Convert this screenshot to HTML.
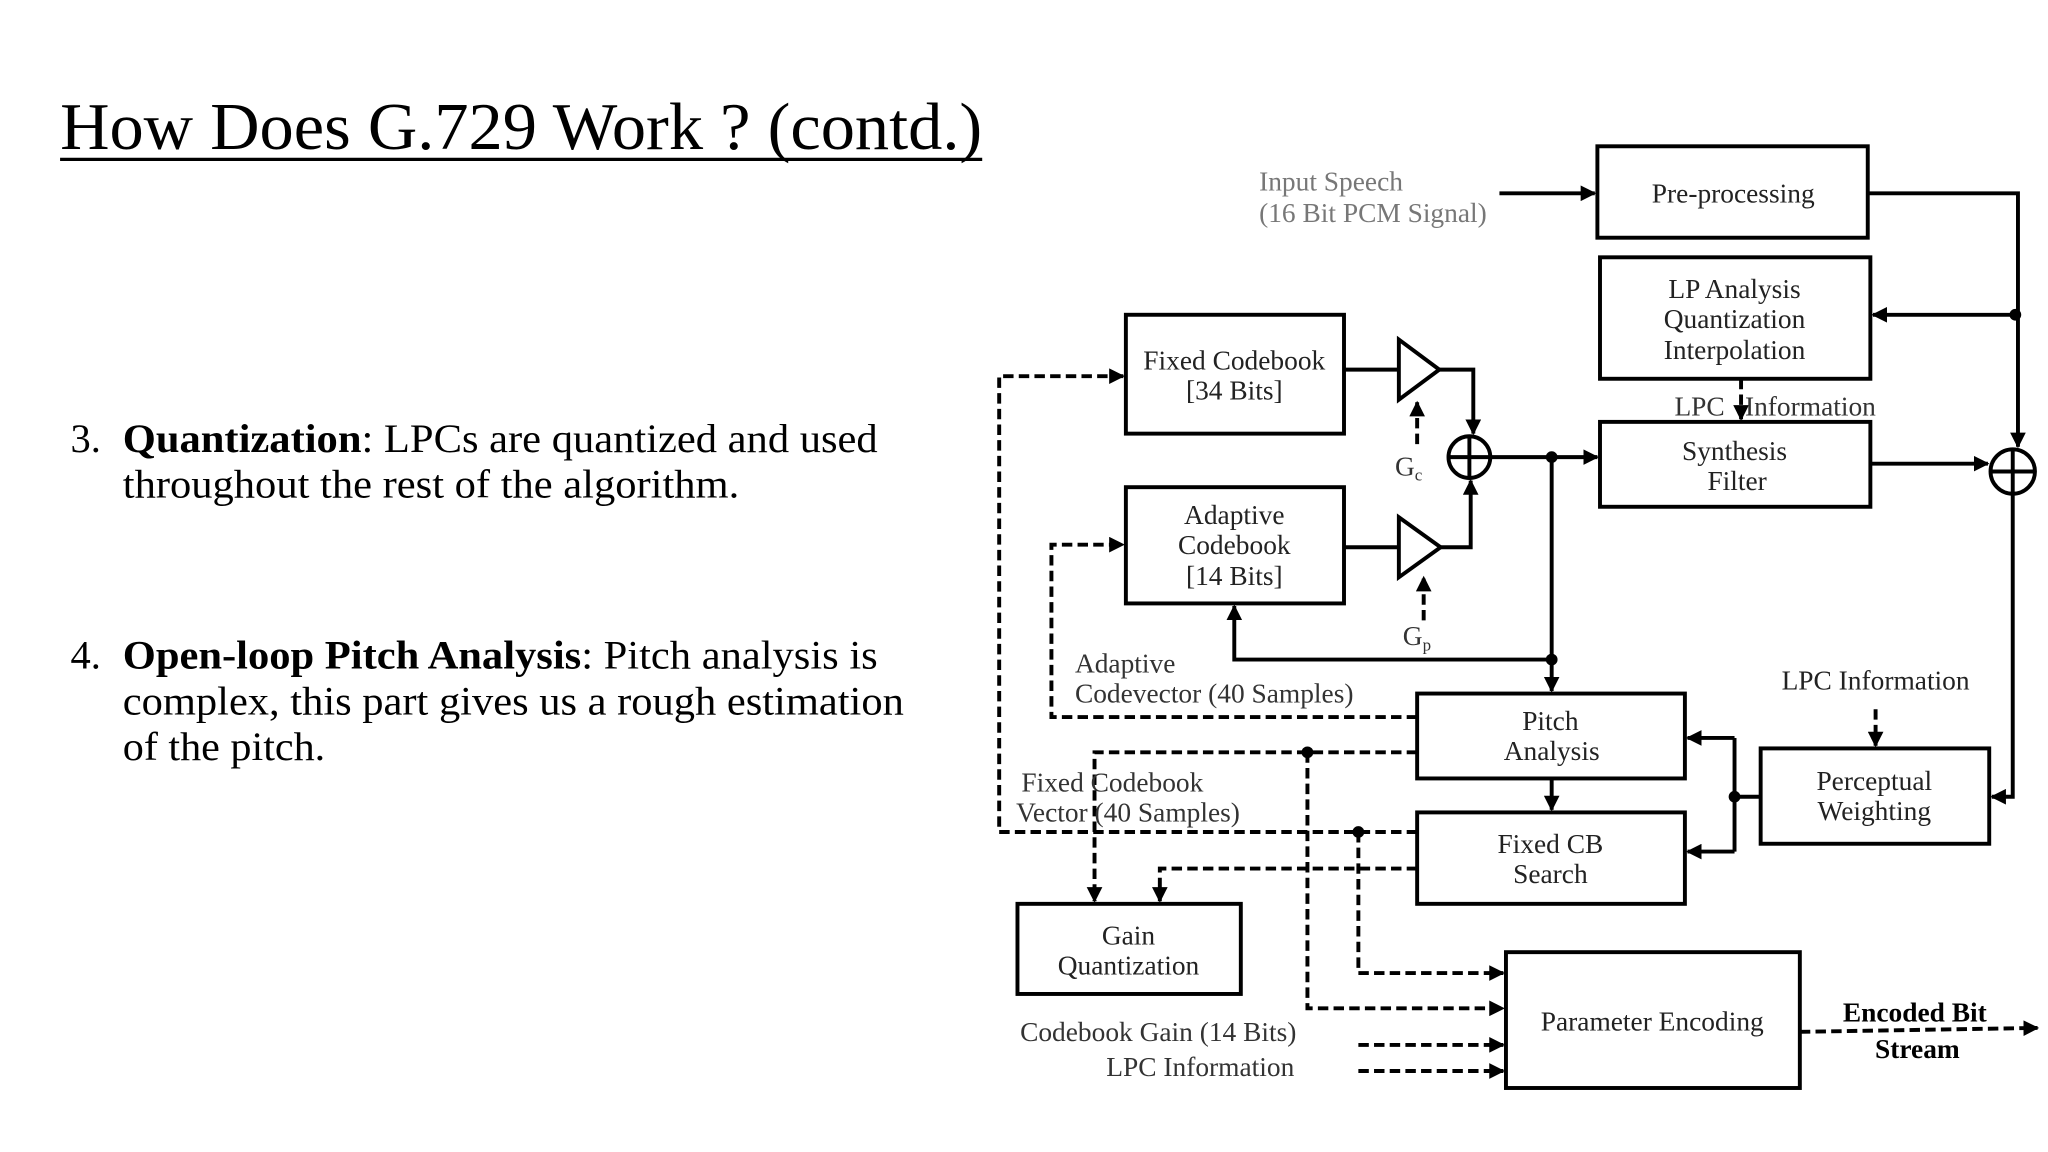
<!DOCTYPE html>
<html><head><meta charset="utf-8"><style>
html,body{margin:0;padding:0;background:#fff;}
svg{display:block;}
</style></head><body>
<svg width="2048" height="1152" viewBox="0 0 1568 882" preserveAspectRatio="none" xmlns="http://www.w3.org/2000/svg">
<defs>
<marker id="a" viewBox="0 0 10 10" refX="9" refY="5" markerWidth="4" markerHeight="4" orient="auto-start-reverse" markerUnits="strokeWidth">
<path d="M0,0 L10,5 L0,10 z" fill="#000"/></marker>
</defs>
<rect width="1568" height="882" fill="#fff"/>
<g font-family="Liberation Serif, serif" fill="#000" lengthAdjust="spacingAndGlyphs">
<text x="46" y="114" font-size="51" textLength="706" lengthAdjust="spacingAndGlyphs">How Does G.729 Work ? (contd.)</text>
<line x1="46" y1="122" x2="752" y2="122" stroke="#000" stroke-width="2.5"/>
<text x="54" y="346" font-size="31">3.</text>
<text x="94" y="346" font-size="31" textLength="578" lengthAdjust="spacingAndGlyphs"><tspan font-weight="bold">Quantization</tspan>: LPCs are quantized and used</text>
<text x="94" y="381" font-size="31" textLength="472" lengthAdjust="spacingAndGlyphs">throughout the rest of the algorithm.</text>
<text x="54" y="512" font-size="31">4.</text>
<text x="94" y="512" font-size="31" textLength="578" lengthAdjust="spacingAndGlyphs"><tspan font-weight="bold">Open-loop Pitch Analysis</tspan>: Pitch analysis is</text>
<text x="94" y="547" font-size="31" textLength="598" lengthAdjust="spacingAndGlyphs">complex, this part gives us a rough estimation</text>
<text x="94" y="582" font-size="31" textLength="155" lengthAdjust="spacingAndGlyphs">of the pitch.</text>
</g>
<g fill="none" stroke="#000" stroke-width="3">
<rect x="1223" y="112" width="207" height="70"/>
<rect x="1225" y="197" width="207" height="93"/>
<rect x="1225" y="323" width="207" height="65"/>
<rect x="862" y="241" width="167" height="91"/>
<rect x="862" y="373" width="167" height="89"/>
<rect x="1085" y="531" width="205" height="65"/>
<rect x="1085" y="622" width="205" height="70"/>
<rect x="1348" y="573" width="175" height="73"/>
<rect x="779" y="692" width="171" height="69"/>
<rect x="1153" y="729" width="225" height="104"/>
<path d="M1071,260 L1102,283 L1071,306 Z"/>
<path d="M1071,396 L1103,419 L1071,442 Z"/>
<circle cx="1125" cy="350" r="16"/><path d="M1109,350 H1141 M1125,334 V366"/>
<circle cx="1541" cy="361" r="17"/><path d="M1524,361 H1558 M1541,344 V378"/>
<path d="M1148,148 H1221" marker-end="url(#a)"/>
<path d="M1430,148 H1545 V342" marker-end="url(#a)"/>
<path d="M1545,241 H1434" marker-end="url(#a)"/>
<path d="M1029,283 H1071 M1102,283 H1128 V332" marker-end="url(#a)"/>
<path d="M1029,419 H1071 M1103,419 H1126 V368" marker-end="url(#a)"/>
<path d="M1141,350 H1223" marker-end="url(#a)"/>
<path d="M1188,350 V529" marker-end="url(#a)"/>
<path d="M1188,505 H945 V464" marker-end="url(#a)"/>
<path d="M1432,355 H1522" marker-end="url(#a)"/>
<path d="M1541,378 V610 H1525" marker-end="url(#a)"/>
<path d="M1348,610 H1328"/>
<path d="M1328,565 V652"/>
<path d="M1328,565 H1292" marker-end="url(#a)"/>
<path d="M1328,652 H1292" marker-end="url(#a)"/>
<path d="M1188,596 V620" marker-end="url(#a)"/>
</g>
<g fill="none" stroke="#000" stroke-width="3" stroke-dasharray="8 4">
<path d="M1085,340 V308" marker-end="url(#a)"/>
<path d="M1090,475 V442" marker-end="url(#a)"/>
<path d="M1333,290 V321" marker-end="url(#a)"/>
<path d="M1436,543 V571" marker-end="url(#a)"/>
<path d="M1085,549 H805 V417 H860" marker-end="url(#a)"/>
<path d="M1085,637 H765 V288 H860" marker-end="url(#a)"/>
<path d="M1085,576 H838 V690" marker-end="url(#a)"/>
<path d="M1001,576 V772 H1151" marker-end="url(#a)"/>
<path d="M1040,637 V745 H1151" marker-end="url(#a)"/>
<path d="M1085,665 H888 V690" marker-end="url(#a)"/>
<path d="M1040,800 H1151" marker-end="url(#a)"/>
<path d="M1040,820 H1151" marker-end="url(#a)"/>
<path d="M1378,790 L1560,787" marker-end="url(#a)"/>
</g>
<g fill="#000">
<circle cx="1543" cy="241" r="4.5"/>
<circle cx="1188" cy="350" r="4.5"/>
<circle cx="1188" cy="505" r="4.5"/>
<circle cx="1328" cy="610" r="4.5"/>
<circle cx="1001" cy="576" r="4.5"/>
<circle cx="1040" cy="637" r="4.5"/>
</g>
<g font-family="Liberation Serif, serif" font-size="21" fill="#222" text-anchor="middle">
<text x="1327" y="155">Pre-processing</text>
<text x="1328" y="228">LP Analysis</text>
<text x="1328" y="251">Quantization</text>
<text x="1328" y="275">Interpolation</text>
<text x="1328" y="352">Synthesis</text>
<text x="1330" y="375">Filter</text>
<text x="945" y="283">Fixed Codebook</text>
<text x="945" y="306">[34 Bits]</text>
<text x="945" y="401">Adaptive</text>
<text x="945" y="424">Codebook</text>
<text x="945" y="448">[14 Bits]</text>
<text x="1187" y="559">Pitch</text>
<text x="1188" y="582">Analysis</text>
<text x="1187" y="653">Fixed CB</text>
<text x="1187" y="676">Search</text>
<text x="1435" y="605">Perceptual</text>
<text x="1435" y="628">Weighting</text>
<text x="864" y="723">Gain</text>
<text x="864" y="746">Quantization</text>
<text x="1265" y="789">Parameter Encoding</text>
<text x="1436" y="528">LPC Information</text>
<text x="1466" y="782" font-weight="bold" fill="#000">Encoded Bit</text>
<text x="1468" y="810" font-weight="bold" fill="#000">Stream</text>
</g>
<g font-family="Liberation Serif, serif" font-size="21" fill="#333">
<text x="964" y="146" fill="#777">Input Speech</text>
<text x="964" y="170" fill="#777">(16 Bit PCM Signal)</text>
<text x="1282" y="318">LPC</text>
<text x="1336" y="318">Information</text>
<text x="1068" y="364">G<tspan font-size="13" dy="4">c</tspan></text>
<text x="1074" y="494">G<tspan font-size="13" dy="4">p</tspan></text>
<text x="823" y="515">Adaptive</text>
<text x="823" y="538">Codevector (40 Samples)</text>
<text x="782" y="606">Fixed Codebook</text>
<text x="778" y="629">Vector (40 Samples)</text>
<text x="781" y="797">Codebook Gain (14 Bits)</text>
<text x="847" y="824">LPC Information</text>
</g>
</svg>
</body></html>
